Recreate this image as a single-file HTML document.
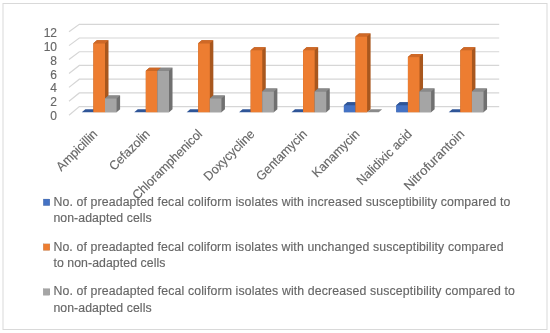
<!DOCTYPE html>
<html><head><meta charset="utf-8"><style>
html,body{margin:0;padding:0;background:#fff;}
body{width:550px;height:333px;overflow:hidden;font-family:"Liberation Sans",sans-serif;}
svg{display:block;will-change:transform;}
</style></head><body>
<svg width="550" height="333" viewBox="0 0 550 333">
<rect x="0" y="0" width="550" height="333" fill="#fff"/>
<rect x="3" y="3.5" width="544" height="326" fill="none" stroke="#d9d9d9" stroke-width="1"/>
<path d="M69.00,115.20L79.30,106.65H499.20M69.00,101.28L79.30,92.93H499.20M69.00,87.37L79.30,79.20H499.20M69.00,73.45L79.30,65.47H499.20M69.00,59.53L79.30,51.75H499.20M69.00,45.62L79.30,38.02H499.20M69.00,31.70L79.30,24.30H499.20" fill="none" stroke="#d6d6d6" stroke-width="1.2"/>
<polygon points="81.80,112.15 85.30,109.15 96.90,109.15 93.40,112.15" fill="#2f5597"/>
<polygon points="93.40,112.15 93.40,43.30 96.90,40.30 108.50,40.30 108.50,109.15 105.00,112.15" fill="#a8571e"/>
<polygon points="93.40,43.30 96.90,40.30 108.50,40.30 105.00,43.30" fill="#cf6826"/>
<polygon points="93.40,43.30 105.00,43.30 105.00,112.15 93.40,112.15" fill="#ed7d31"/>
<polygon points="105.00,112.15 105.00,98.38 108.50,95.38 120.10,95.38 120.10,109.15 116.60,112.15" fill="#707070"/>
<polygon points="105.00,98.38 108.50,95.38 120.10,95.38 116.60,98.38" fill="#8a8a8a"/>
<polygon points="105.00,98.38 116.60,98.38 116.60,112.15 105.00,112.15" fill="#a5a5a5"/>
<polygon points="134.22,112.15 137.72,109.15 149.32,109.15 145.82,112.15" fill="#2f5597"/>
<polygon points="145.82,112.15 145.82,70.84 149.32,67.84 160.92,67.84 160.92,109.15 157.42,112.15" fill="#a8571e"/>
<polygon points="145.82,70.84 149.32,67.84 160.92,67.84 157.42,70.84" fill="#cf6826"/>
<polygon points="145.82,70.84 157.42,70.84 157.42,112.15 145.82,112.15" fill="#ed7d31"/>
<polygon points="157.42,112.15 157.42,70.84 160.92,67.84 172.52,67.84 172.52,109.15 169.02,112.15" fill="#707070"/>
<polygon points="157.42,70.84 160.92,67.84 172.52,67.84 169.02,70.84" fill="#8a8a8a"/>
<polygon points="157.42,70.84 169.02,70.84 169.02,112.15 157.42,112.15" fill="#a5a5a5"/>
<polygon points="186.64,112.15 190.14,109.15 201.74,109.15 198.24,112.15" fill="#2f5597"/>
<polygon points="198.24,112.15 198.24,43.30 201.74,40.30 213.34,40.30 213.34,109.15 209.84,112.15" fill="#a8571e"/>
<polygon points="198.24,43.30 201.74,40.30 213.34,40.30 209.84,43.30" fill="#cf6826"/>
<polygon points="198.24,43.30 209.84,43.30 209.84,112.15 198.24,112.15" fill="#ed7d31"/>
<polygon points="209.84,112.15 209.84,98.38 213.34,95.38 224.94,95.38 224.94,109.15 221.44,112.15" fill="#707070"/>
<polygon points="209.84,98.38 213.34,95.38 224.94,95.38 221.44,98.38" fill="#8a8a8a"/>
<polygon points="209.84,98.38 221.44,98.38 221.44,112.15 209.84,112.15" fill="#a5a5a5"/>
<polygon points="239.06,112.15 242.56,109.15 254.16,109.15 250.66,112.15" fill="#2f5597"/>
<polygon points="250.66,112.15 250.66,50.19 254.16,47.19 265.76,47.19 265.76,109.15 262.26,112.15" fill="#a8571e"/>
<polygon points="250.66,50.19 254.16,47.19 265.76,47.19 262.26,50.19" fill="#cf6826"/>
<polygon points="250.66,50.19 262.26,50.19 262.26,112.15 250.66,112.15" fill="#ed7d31"/>
<polygon points="262.26,112.15 262.26,91.50 265.76,88.50 277.36,88.50 277.36,109.15 273.86,112.15" fill="#707070"/>
<polygon points="262.26,91.50 265.76,88.50 277.36,88.50 273.86,91.50" fill="#8a8a8a"/>
<polygon points="262.26,91.50 273.86,91.50 273.86,112.15 262.26,112.15" fill="#a5a5a5"/>
<polygon points="291.48,112.15 294.98,109.15 306.58,109.15 303.08,112.15" fill="#2f5597"/>
<polygon points="303.08,112.15 303.08,50.19 306.58,47.19 318.18,47.19 318.18,109.15 314.68,112.15" fill="#a8571e"/>
<polygon points="303.08,50.19 306.58,47.19 318.18,47.19 314.68,50.19" fill="#cf6826"/>
<polygon points="303.08,50.19 314.68,50.19 314.68,112.15 303.08,112.15" fill="#ed7d31"/>
<polygon points="314.68,112.15 314.68,91.50 318.18,88.50 329.78,88.50 329.78,109.15 326.28,112.15" fill="#707070"/>
<polygon points="314.68,91.50 318.18,88.50 329.78,88.50 326.28,91.50" fill="#8a8a8a"/>
<polygon points="314.68,91.50 326.28,91.50 326.28,112.15 314.68,112.15" fill="#a5a5a5"/>
<polygon points="343.90,112.15 343.90,105.27 347.40,102.27 359.00,102.27 359.00,109.15 355.50,112.15" fill="#2f5597"/>
<polygon points="343.90,105.27 347.40,102.27 359.00,102.27 355.50,105.27" fill="#2f5597"/>
<polygon points="343.90,105.27 355.50,105.27 355.50,112.15 343.90,112.15" fill="#4472c4"/>
<polygon points="355.50,112.15 355.50,36.42 359.00,33.42 370.60,33.42 370.60,109.15 367.10,112.15" fill="#a8571e"/>
<polygon points="355.50,36.42 359.00,33.42 370.60,33.42 367.10,36.42" fill="#cf6826"/>
<polygon points="355.50,36.42 367.10,36.42 367.10,112.15 355.50,112.15" fill="#ed7d31"/>
<polygon points="367.10,112.15 370.60,109.15 382.20,109.15 378.70,112.15" fill="#8a8a8a"/>
<polygon points="396.32,112.15 396.32,105.27 399.82,102.27 411.42,102.27 411.42,109.15 407.92,112.15" fill="#2f5597"/>
<polygon points="396.32,105.27 399.82,102.27 411.42,102.27 407.92,105.27" fill="#2f5597"/>
<polygon points="396.32,105.27 407.92,105.27 407.92,112.15 396.32,112.15" fill="#4472c4"/>
<polygon points="407.92,112.15 407.92,57.07 411.42,54.07 423.02,54.07 423.02,109.15 419.52,112.15" fill="#a8571e"/>
<polygon points="407.92,57.07 411.42,54.07 423.02,54.07 419.52,57.07" fill="#cf6826"/>
<polygon points="407.92,57.07 419.52,57.07 419.52,112.15 407.92,112.15" fill="#ed7d31"/>
<polygon points="419.52,112.15 419.52,91.50 423.02,88.50 434.62,88.50 434.62,109.15 431.12,112.15" fill="#707070"/>
<polygon points="419.52,91.50 423.02,88.50 434.62,88.50 431.12,91.50" fill="#8a8a8a"/>
<polygon points="419.52,91.50 431.12,91.50 431.12,112.15 419.52,112.15" fill="#a5a5a5"/>
<polygon points="448.74,112.15 452.24,109.15 463.84,109.15 460.34,112.15" fill="#2f5597"/>
<polygon points="460.34,112.15 460.34,50.19 463.84,47.19 475.44,47.19 475.44,109.15 471.94,112.15" fill="#a8571e"/>
<polygon points="460.34,50.19 463.84,47.19 475.44,47.19 471.94,50.19" fill="#cf6826"/>
<polygon points="460.34,50.19 471.94,50.19 471.94,112.15 460.34,112.15" fill="#ed7d31"/>
<polygon points="471.94,112.15 471.94,91.50 475.44,88.50 487.04,88.50 487.04,109.15 483.54,112.15" fill="#707070"/>
<polygon points="471.94,91.50 475.44,88.50 487.04,88.50 483.54,91.50" fill="#8a8a8a"/>
<polygon points="471.94,91.50 483.54,91.50 483.54,112.15 471.94,112.15" fill="#a5a5a5"/>
<g font-family="Liberation Sans" font-size="12" fill="#676767" stroke="#676767" stroke-width="0.15" text-anchor="end">
<text x="57" y="120.30">0</text>
<text x="57" y="106.38">2</text>
<text x="57" y="92.47">4</text>
<text x="57" y="78.55">6</text>
<text x="57" y="64.63">8</text>
<text x="57" y="50.72">10</text>
<text x="57" y="36.80">12</text>
</g>
<g font-family="Liberation Sans" font-size="12.8" fill="#676767" stroke="#676767" stroke-width="0.15" text-anchor="end">
<text transform="translate(98.20,134.80) rotate(-45)" x="0" y="0" textLength="52.20" lengthAdjust="spacingAndGlyphs">Ampicillin</text>
<text transform="translate(150.62,134.80) rotate(-45)" x="0" y="0" textLength="51.53" lengthAdjust="spacingAndGlyphs">Cefazolin</text>
<text transform="translate(203.04,134.80) rotate(-45)" x="0" y="0" textLength="92.74" lengthAdjust="spacingAndGlyphs">Chloramphenicol</text>
<text transform="translate(255.46,134.80) rotate(-45)" x="0" y="0" textLength="65.94" lengthAdjust="spacingAndGlyphs">Doxycycline</text>
<text transform="translate(307.88,134.80) rotate(-45)" x="0" y="0" textLength="65.94" lengthAdjust="spacingAndGlyphs">Gentamycin</text>
<text transform="translate(360.30,134.80) rotate(-45)" x="0" y="0" textLength="61.14" lengthAdjust="spacingAndGlyphs">Kanamycin</text>
<text transform="translate(412.72,134.80) rotate(-45)" x="0" y="0" textLength="72.12" lengthAdjust="spacingAndGlyphs">Nalidixic acid</text>
<text transform="translate(465.14,134.80) rotate(-45)" x="0" y="0" textLength="79.50" lengthAdjust="spacingAndGlyphs">Nitrofurantoin</text>
</g>
<g font-family="Liberation Sans" font-size="12.3" fill="#676767" stroke="#676767" stroke-width="0.15">
<rect x="43.2" y="199.00" width="6.7" height="6.7" fill="#4472c4"/>
<text x="53.4" y="205.80" textLength="457.0" lengthAdjust="spacing">No. of preadapted fecal coliform isolates with increased susceptibility compared to</text>
<text x="53.4" y="222.30" textLength="98.20" lengthAdjust="spacing">non-adapted cells</text>
<rect x="43.2" y="243.80" width="6.7" height="6.7" fill="#ed7d31"/>
<text x="53.4" y="250.60" textLength="450.1" lengthAdjust="spacing">No. of preadapted fecal coliform isolates with unchanged susceptibility compared</text>
<text x="53.4" y="267.10" textLength="112.00" lengthAdjust="spacing">to non-adapted cells</text>
<rect x="43.2" y="288.60" width="6.7" height="6.7" fill="#a5a5a5"/>
<text x="53.4" y="295.40" textLength="461.5" lengthAdjust="spacing">No. of preadapted fecal coliform isolates with decreased susceptibility compared to</text>
<text x="53.4" y="311.90" textLength="98.20" lengthAdjust="spacing">non-adapted cells</text>
</g>
</svg>
</body></html>
